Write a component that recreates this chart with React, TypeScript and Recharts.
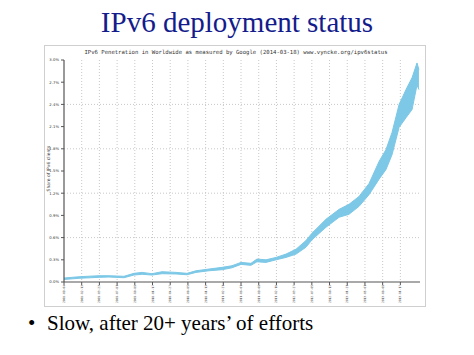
import React from 'react'
import { AreaChart, Area, XAxis, YAxis, CartesianGrid } from 'recharts'

// days since 2008-09-04, band (weekly low / high, % of users)
const days = [0, 85, 198, 254, 339, 395, 441, 497, 554, 633, 695, 746, 819, 893, 949, 1000, 1056, 1090, 1141, 1198, 1254, 1311, 1367, 1401, 1480, 1554, 1610, 1667, 1723, 1780, 1819, 1853, 1893, 1932, 1966, 1994, 2005]
const highs = [0.054, 0.071, 0.085, 0.085, 0.077, 0.117, 0.13, 0.112, 0.139, 0.13, 0.117, 0.152, 0.175, 0.198, 0.22, 0.265, 0.252, 0.31, 0.3, 0.332, 0.377, 0.444, 0.56, 0.66, 0.848, 0.982, 1.05, 1.157, 1.33, 1.63, 1.79, 2.02, 2.4, 2.6, 2.76, 2.96, 2.87]
const lows = [0.034, 0.05, 0.063, 0.067, 0.058, 0.094, 0.104, 0.094, 0.112, 0.108, 0.098, 0.13, 0.152, 0.166, 0.192, 0.238, 0.225, 0.273, 0.265, 0.3, 0.332, 0.377, 0.47, 0.57, 0.74, 0.875, 0.915, 1.023, 1.18, 1.39, 1.52, 1.72, 2.09, 2.22, 2.33, 2.66, 2.6]

const xTicks = [0, 100, 200, 300, 400, 500, 600, 700, 800, 900, 1000, 1100, 1200, 1300, 1400, 1500, 1600, 1700, 1800, 1900]
const xTickLabels = ['2008-09-04', '2008-12-13', '2009-03-23', '2009-07-01', '2009-10-09', '2010-01-17', '2010-04-27', '2010-08-05', '2010-11-13', '2011-02-21', '2011-06-01', '2011-09-09', '2011-12-18', '2012-03-27', '2012-07-05', '2012-10-13', '2013-01-21', '2013-05-01', '2013-08-09', '2013-11-17']
const yTicks = [0, 0.3, 0.6, 0.9, 1.2, 1.5, 1.8, 2.1, 2.4, 2.7, 3.0]
const yGrid = [0.6, 1.2, 1.8, 2.4]

const data = days.map((d, i) => ({ day: d, band: [lows[i], highs[i]] }))

const DateTick = (props: any) => {
  const { x, y, index } = props
  return (
    <text
      x={x}
      y={y}
      transform={`rotate(-90, ${x}, ${y})`}
      textAnchor="end"
      dominantBaseline="central"
      fontSize={3}
      fontFamily="DejaVu Sans Mono"
      fill="#333"
    >
      {xTickLabels[index]}
    </text>
  )
}

export default function App() {
  return (
    <div style={{ position: 'absolute', left: 0, top: 0, width: 474, height: 355, background: '#fff', overflow: 'hidden' }}>
      <div
        style={{
          position: 'absolute', left: 0, top: 4, width: 474, textAlign: 'center',
          fontFamily: '"Liberation Serif", "Times New Roman", serif', fontSize: 29, color: '#141c8c', lineHeight: '36px',
        }}
      >
        IPv6 deployment status
      </div>

      <div style={{ position: 'absolute', left: 44, top: 45, width: 382, height: 262, border: '1px solid #cfcfcf', boxSizing: 'border-box' }}>
        <div
          style={{
            position: 'absolute', left: 0, top: 3, width: 382, textAlign: 'center', whiteSpace: 'nowrap',
            fontFamily: '"DejaVu Sans Mono", monospace', fontSize: 5.6, color: '#333',
          }}
        >
          IPv6 Penetration in Worldwide as measured by Google (2014-03-18) www.vyncke.org/ipv6status
        </div>
        <div
          style={{
            position: 'absolute', left: -42, top: 120, width: 90, textAlign: 'center', whiteSpace: 'nowrap',
            transform: 'rotate(-90deg)', fontFamily: '"DejaVu Sans", sans-serif', fontSize: 4.5, color: '#333',
          }}
        >
          Share of IPv6 clients
        </div>
        <AreaChart
          width={380}
          height={260}
          data={data}
          margin={{ top: 14, right: 5, bottom: 0, left: 3 }}
          style={{ position: 'absolute', left: 0, top: 0 }}
        >
          <CartesianGrid
            stroke="#c8c8c8"
            strokeDasharray="1 2"
            horizontalValues={yGrid}
            verticalValues={xTicks.slice(1)}
          />
          <XAxis
            dataKey="day"
            type="number"
            domain={[0, 2011]}
            ticks={xTicks}
            interval={0}
            height={24}
            tick={<DateTick />}
            tickSize={3}
            tickMargin={0}
            stroke="#555"
            axisLine={{ stroke: '#555', strokeWidth: 1.2 }}
          />
          <YAxis
            type="number"
            domain={[0, 3]}
            ticks={yTicks}
            interval={0}
            width={16}
            tickSize={3}
            stroke="#555"
            axisLine={{ stroke: '#555', strokeWidth: 1.2 }}
            tick={{ fontSize: 3.8, fill: '#333', fontFamily: 'DejaVu Sans' }}
            tickFormatter={(v: number) => v.toFixed(1) + '%'}
          />
          <Area
            type="linear"
            dataKey="band"
            stroke="#7cc8e6"
            strokeWidth={1}
            fill="#7cc8e6"
            fillOpacity={1}
            isAnimationActive={false}
            dot={false}
            activeDot={false}
          />
        </AreaChart>
      </div>

      <div
        style={{
          position: 'absolute', left: 28, top: 310, whiteSpace: 'nowrap',
          fontFamily: '"Liberation Serif", "Times New Roman", serif', fontSize: 21, color: '#000', lineHeight: '26px',
        }}
      >
        <span style={{ display: 'inline-block', width: 19 }}>•</span>Slow, after 20+ years’ of efforts
      </div>
    </div>
  )
}
